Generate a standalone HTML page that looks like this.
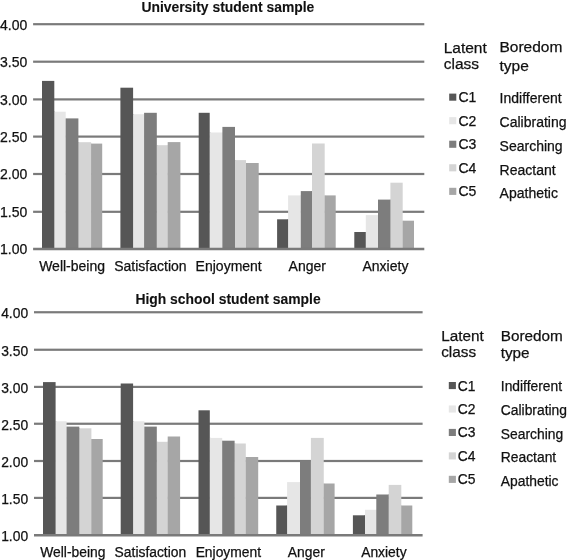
<!DOCTYPE html>
<html><head><meta charset="utf-8"><title>Chart</title>
<style>
html,body{margin:0;padding:0;background:#fff;}
svg{display:block;}
.hd text{font-size:15.5px;}
.c2 text{font-size:13.85px;}
.c2 .hd text{font-size:15.3px;}
text.tt,.c2 text.tt{font-weight:bold;font-size:13.9px;stroke-width:0.1px;}
text{font-family:"Liberation Sans",sans-serif;font-size:14px;fill:#111;stroke:#111;stroke-width:0.25px;}
</style></head>
<body>
<svg width="568" height="560" viewBox="0 0 568 560">
<rect width="568" height="560" fill="#fff"/>
<g class="c1">
<rect x="33.10" y="23.10" width="391.20" height="2.2" fill="#7a7a7a"/>
<rect x="33.10" y="60.60" width="391.20" height="2.2" fill="#7a7a7a"/>
<rect x="33.10" y="98.30" width="391.20" height="2.2" fill="#7a7a7a"/>
<rect x="33.10" y="135.50" width="391.20" height="2.2" fill="#7a7a7a"/>
<rect x="33.10" y="172.90" width="391.20" height="2.2" fill="#7a7a7a"/>
<rect x="33.10" y="210.70" width="391.20" height="2.2" fill="#7a7a7a"/>
<rect x="53.80" y="111.70" width="1.2" height="137.30" fill="#565656"/>
<rect x="42.00" y="80.90" width="12.30" height="168.10" fill="#565656"/>
<rect x="65.20" y="118.40" width="1.2" height="130.60" fill="#e6e6e6"/>
<rect x="54.30" y="111.70" width="11.40" height="137.30" fill="#e6e6e6"/>
<rect x="77.90" y="142.20" width="1.2" height="106.80" fill="#7d7d7d"/>
<rect x="65.70" y="118.40" width="12.70" height="130.60" fill="#7d7d7d"/>
<rect x="90.60" y="143.60" width="1.2" height="105.40" fill="#d4d4d4"/>
<rect x="78.40" y="142.20" width="12.70" height="106.80" fill="#d4d4d4"/>
<rect x="91.10" y="143.60" width="11.10" height="105.40" fill="#a6a6a6"/>
<rect x="132.60" y="114.20" width="1.2" height="134.80" fill="#565656"/>
<rect x="120.40" y="87.70" width="12.70" height="161.30" fill="#565656"/>
<rect x="143.60" y="114.20" width="1.2" height="134.80" fill="#e6e6e6"/>
<rect x="133.10" y="114.20" width="11.00" height="134.80" fill="#e6e6e6"/>
<rect x="156.30" y="145.20" width="1.2" height="103.80" fill="#7d7d7d"/>
<rect x="144.10" y="112.80" width="12.70" height="136.20" fill="#7d7d7d"/>
<rect x="167.20" y="145.20" width="1.2" height="103.80" fill="#d4d4d4"/>
<rect x="156.80" y="145.20" width="10.90" height="103.80" fill="#d4d4d4"/>
<rect x="167.70" y="142.10" width="12.70" height="106.90" fill="#a6a6a6"/>
<rect x="209.20" y="132.50" width="1.2" height="116.50" fill="#565656"/>
<rect x="198.70" y="112.80" width="11.00" height="136.20" fill="#565656"/>
<rect x="221.90" y="132.50" width="1.2" height="116.50" fill="#e6e6e6"/>
<rect x="209.70" y="132.50" width="12.70" height="116.50" fill="#e6e6e6"/>
<rect x="234.50" y="160.10" width="1.2" height="88.90" fill="#7d7d7d"/>
<rect x="222.40" y="126.90" width="12.60" height="122.10" fill="#7d7d7d"/>
<rect x="245.50" y="163.00" width="1.2" height="86.00" fill="#d4d4d4"/>
<rect x="235.00" y="160.10" width="11.00" height="88.90" fill="#d4d4d4"/>
<rect x="246.00" y="163.00" width="12.70" height="86.00" fill="#a6a6a6"/>
<rect x="287.60" y="219.30" width="1.2" height="29.70" fill="#565656"/>
<rect x="277.10" y="219.30" width="11.00" height="29.70" fill="#565656"/>
<rect x="300.30" y="195.40" width="1.2" height="53.60" fill="#e6e6e6"/>
<rect x="288.10" y="195.40" width="12.70" height="53.60" fill="#e6e6e6"/>
<rect x="311.50" y="191.10" width="1.2" height="57.90" fill="#7d7d7d"/>
<rect x="300.80" y="191.10" width="11.20" height="57.90" fill="#7d7d7d"/>
<rect x="324.20" y="195.40" width="1.2" height="53.60" fill="#d4d4d4"/>
<rect x="312.00" y="143.50" width="12.70" height="105.50" fill="#d4d4d4"/>
<rect x="324.70" y="195.40" width="11.00" height="53.60" fill="#a6a6a6"/>
<rect x="365.30" y="232.00" width="1.2" height="17.00" fill="#565656"/>
<rect x="354.30" y="232.00" width="11.50" height="17.00" fill="#565656"/>
<rect x="377.50" y="215.10" width="1.2" height="33.90" fill="#e6e6e6"/>
<rect x="365.80" y="215.10" width="12.20" height="33.90" fill="#e6e6e6"/>
<rect x="389.90" y="199.60" width="1.2" height="49.40" fill="#7d7d7d"/>
<rect x="378.00" y="199.60" width="12.40" height="49.40" fill="#7d7d7d"/>
<rect x="402.20" y="220.70" width="1.2" height="28.30" fill="#d4d4d4"/>
<rect x="390.40" y="182.70" width="12.30" height="66.30" fill="#d4d4d4"/>
<rect x="402.70" y="220.70" width="11.30" height="28.30" fill="#a6a6a6"/>
<rect x="33.10" y="247.75" width="391.20" height="2.5" fill="#7a7a7a"/>
<text x="27.2" y="29.50" text-anchor="end">4.00</text>
<text x="27.2" y="67.00" text-anchor="end">3.50</text>
<text x="27.2" y="104.70" text-anchor="end">3.00</text>
<text x="27.2" y="141.90" text-anchor="end">2.50</text>
<text x="27.2" y="179.30" text-anchor="end">2.00</text>
<text x="27.2" y="217.10" text-anchor="end">1.50</text>
<text x="27.2" y="254.30" text-anchor="end">1.00</text>
<text x="72.10" y="270.6" text-anchor="middle">Well-being</text>
<text x="150.40" y="270.6" text-anchor="middle">Satisfaction</text>
<text x="228.70" y="270.6" text-anchor="middle">Enjoyment</text>
<text x="307.30" y="270.6" text-anchor="middle">Anger</text>
<text x="385.45" y="270.6" text-anchor="middle">Anxiety</text>
<text x="141.4" y="12.0" class="tt">University student sample</text>
<g class="hd"><text x="443.7" y="53.0">Latent</text><text x="443.7" y="68.8">class</text><text x="499.5" y="52.1">Boredom</text><text x="499.5" y="70.5">type</text></g>
<rect x="449.2" y="93.60" width="7.1" height="7.1" fill="#565656"/>
<text x="458.5" y="102.10">C1</text>
<text x="499.6" y="102.80">Indifferent</text>
<rect x="449.2" y="117.15" width="7.1" height="7.1" fill="#e6e6e6"/>
<text x="458.5" y="125.65">C2</text>
<text x="499.6" y="126.70">Calibrating</text>
<rect x="449.2" y="140.70" width="7.1" height="7.1" fill="#7d7d7d"/>
<text x="458.5" y="149.20">C3</text>
<text x="499.6" y="150.60">Searching</text>
<rect x="449.2" y="164.25" width="7.1" height="7.1" fill="#d4d4d4"/>
<text x="458.5" y="172.75">C4</text>
<text x="499.6" y="174.50">Reactant</text>
<rect x="449.2" y="187.80" width="7.1" height="7.1" fill="#a6a6a6"/>
<text x="458.5" y="196.30">C5</text>
<text x="499.6" y="198.40">Apathetic</text>
</g><g class="c2">
<rect x="34.00" y="311.15" width="388.60" height="2.2" fill="#7a7a7a"/>
<rect x="34.00" y="348.65" width="388.60" height="2.2" fill="#7a7a7a"/>
<rect x="34.00" y="385.80" width="388.60" height="2.2" fill="#7a7a7a"/>
<rect x="34.00" y="422.65" width="388.60" height="2.2" fill="#7a7a7a"/>
<rect x="34.00" y="459.90" width="388.60" height="2.2" fill="#7a7a7a"/>
<rect x="34.00" y="496.80" width="388.60" height="2.2" fill="#7a7a7a"/>
<rect x="55.10" y="421.30" width="1.2" height="113.95" fill="#565656"/>
<rect x="43.00" y="382.10" width="12.60" height="153.15" fill="#565656"/>
<rect x="66.10" y="426.60" width="1.2" height="108.65" fill="#e6e6e6"/>
<rect x="55.60" y="421.30" width="11.00" height="113.95" fill="#e6e6e6"/>
<rect x="78.80" y="428.30" width="1.2" height="106.95" fill="#7d7d7d"/>
<rect x="66.60" y="426.60" width="12.70" height="108.65" fill="#7d7d7d"/>
<rect x="90.90" y="439.00" width="1.2" height="96.25" fill="#d4d4d4"/>
<rect x="79.30" y="428.30" width="12.10" height="106.95" fill="#d4d4d4"/>
<rect x="91.40" y="439.00" width="11.30" height="96.25" fill="#a6a6a6"/>
<rect x="132.60" y="421.30" width="1.2" height="113.95" fill="#565656"/>
<rect x="120.70" y="383.50" width="12.40" height="151.75" fill="#565656"/>
<rect x="143.90" y="426.60" width="1.2" height="108.65" fill="#e6e6e6"/>
<rect x="133.10" y="421.30" width="11.30" height="113.95" fill="#e6e6e6"/>
<rect x="156.30" y="441.80" width="1.2" height="93.45" fill="#7d7d7d"/>
<rect x="144.40" y="426.60" width="12.40" height="108.65" fill="#7d7d7d"/>
<rect x="167.20" y="441.80" width="1.2" height="93.45" fill="#d4d4d4"/>
<rect x="156.80" y="441.80" width="10.90" height="93.45" fill="#d4d4d4"/>
<rect x="167.70" y="436.50" width="12.40" height="98.75" fill="#a6a6a6"/>
<rect x="209.30" y="437.90" width="1.2" height="97.35" fill="#565656"/>
<rect x="198.50" y="410.30" width="11.30" height="124.95" fill="#565656"/>
<rect x="221.70" y="440.70" width="1.2" height="94.55" fill="#e6e6e6"/>
<rect x="209.80" y="437.90" width="12.40" height="97.35" fill="#e6e6e6"/>
<rect x="234.10" y="443.50" width="1.2" height="91.75" fill="#7d7d7d"/>
<rect x="222.20" y="440.70" width="12.40" height="94.55" fill="#7d7d7d"/>
<rect x="245.30" y="457.00" width="1.2" height="78.25" fill="#d4d4d4"/>
<rect x="234.60" y="443.50" width="11.20" height="91.75" fill="#d4d4d4"/>
<rect x="245.80" y="457.00" width="12.40" height="78.25" fill="#a6a6a6"/>
<rect x="286.60" y="505.50" width="1.2" height="29.75" fill="#565656"/>
<rect x="276.25" y="505.50" width="10.85" height="29.75" fill="#565656"/>
<rect x="299.50" y="482.10" width="1.2" height="53.15" fill="#e6e6e6"/>
<rect x="287.10" y="482.10" width="12.90" height="53.15" fill="#e6e6e6"/>
<rect x="310.40" y="460.70" width="1.2" height="74.55" fill="#7d7d7d"/>
<rect x="300.00" y="460.70" width="10.90" height="74.55" fill="#7d7d7d"/>
<rect x="323.25" y="483.50" width="1.2" height="51.75" fill="#d4d4d4"/>
<rect x="310.90" y="437.90" width="12.85" height="97.35" fill="#d4d4d4"/>
<rect x="323.75" y="483.50" width="10.85" height="51.75" fill="#a6a6a6"/>
<rect x="364.50" y="515.30" width="1.2" height="19.95" fill="#565656"/>
<rect x="352.90" y="515.30" width="12.10" height="19.95" fill="#565656"/>
<rect x="375.80" y="509.80" width="1.2" height="25.45" fill="#e6e6e6"/>
<rect x="365.00" y="509.80" width="11.30" height="25.45" fill="#e6e6e6"/>
<rect x="388.20" y="494.50" width="1.2" height="40.75" fill="#7d7d7d"/>
<rect x="376.30" y="494.50" width="12.40" height="40.75" fill="#7d7d7d"/>
<rect x="400.80" y="505.50" width="1.2" height="29.75" fill="#d4d4d4"/>
<rect x="388.70" y="484.90" width="12.60" height="50.35" fill="#d4d4d4"/>
<rect x="401.30" y="505.50" width="11.00" height="29.75" fill="#a6a6a6"/>
<rect x="34.00" y="534.00" width="388.60" height="2.5" fill="#7a7a7a"/>
<text x="28.1" y="318.05" text-anchor="end">4.00</text>
<text x="28.1" y="355.55" text-anchor="end">3.50</text>
<text x="28.1" y="392.70" text-anchor="end">3.00</text>
<text x="28.1" y="429.55" text-anchor="end">2.50</text>
<text x="28.1" y="466.80" text-anchor="end">2.00</text>
<text x="28.1" y="503.70" text-anchor="end">1.50</text>
<text x="28.1" y="541.05" text-anchor="end">1.00</text>
<text x="72.85" y="556.9" text-anchor="middle">Well-being</text>
<text x="150.40" y="556.9" text-anchor="middle">Satisfaction</text>
<text x="228.35" y="556.9" text-anchor="middle">Enjoyment</text>
<text x="306.32" y="556.9" text-anchor="middle">Anger</text>
<text x="383.90" y="556.9" text-anchor="middle">Anxiety</text>
<text x="135.4" y="303.7" class="tt">High school student sample</text>
<g class="hd"><text x="441.2" y="340.9">Latent</text><text x="441.2" y="357.2">class</text><text x="500.7" y="340.5">Boredom</text><text x="500.7" y="358.3">type</text></g>
<rect x="448.8" y="382.00" width="7.1" height="7.1" fill="#565656"/>
<text x="457.8" y="390.50">C1</text>
<text x="500.8" y="390.90">Indifferent</text>
<rect x="448.8" y="405.45" width="7.1" height="7.1" fill="#e6e6e6"/>
<text x="457.8" y="413.95">C2</text>
<text x="500.8" y="414.70">Calibrating</text>
<rect x="448.8" y="428.90" width="7.1" height="7.1" fill="#7d7d7d"/>
<text x="457.8" y="437.40">C3</text>
<text x="500.8" y="438.50">Searching</text>
<rect x="448.8" y="452.35" width="7.1" height="7.1" fill="#d4d4d4"/>
<text x="457.8" y="460.85">C4</text>
<text x="500.8" y="462.30">Reactant</text>
<rect x="448.8" y="475.80" width="7.1" height="7.1" fill="#a6a6a6"/>
<text x="457.8" y="484.30">C5</text>
<text x="500.8" y="486.10">Apathetic</text>
</g>
</svg>
</body></html>
